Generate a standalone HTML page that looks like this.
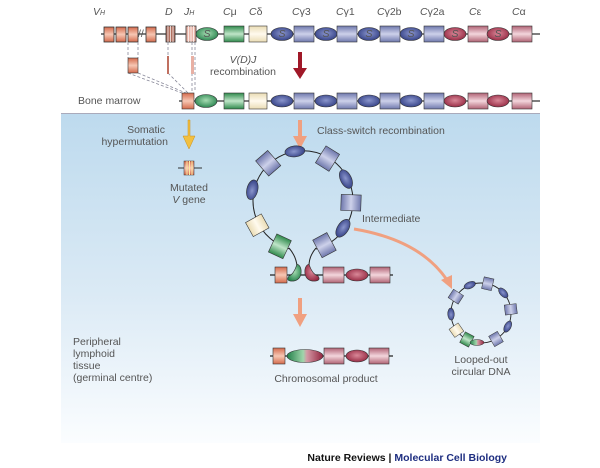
<!DOCTYPE html>
<html><head><meta charset="utf-8"><style>
html,body{margin:0;padding:0;background:#fff;width:600px;height:468px;overflow:hidden}
svg{display:block}
text{font-family:"Liberation Sans",sans-serif;font-size:10.5px;fill:#555}
</style></head><body>
<svg width="600" height="468" viewBox="0 0 600 468" xmlns="http://www.w3.org/2000/svg">
<defs>
<linearGradient id="bg" x1="0" y1="0" x2="0" y2="1">
<stop offset="0" stop-color="#bddaee"/><stop offset="0.55" stop-color="#dbeaf5"/><stop offset="1" stop-color="#fbfdff"/></linearGradient>
<linearGradient id="gb" x1="0" y1="0" x2="0" y2="1"><stop offset="0" stop-color="#6f78ad"/><stop offset="0.5" stop-color="#cdd1ea"/><stop offset="1" stop-color="#6f78ad"/></linearGradient>
<linearGradient id="gr" x1="0" y1="0" x2="0" y2="1"><stop offset="0" stop-color="#b06274"/><stop offset="0.5" stop-color="#f3d6dc"/><stop offset="1" stop-color="#b06274"/></linearGradient>
<linearGradient id="gs" x1="0" y1="0" x2="0" y2="1"><stop offset="0" stop-color="#d46a4c"/><stop offset="0.5" stop-color="#f6c7b4"/><stop offset="1" stop-color="#d46a4c"/></linearGradient>
<linearGradient id="gg" x1="0" y1="0" x2="0" y2="1"><stop offset="0" stop-color="#2f8a4c"/><stop offset="0.5" stop-color="#bfe5c8"/><stop offset="1" stop-color="#2f8a4c"/></linearGradient>
<linearGradient id="gc" x1="0" y1="0" x2="0" y2="1"><stop offset="0" stop-color="#eadcb4"/><stop offset="0.5" stop-color="#fffaee"/><stop offset="1" stop-color="#eadcb4"/></linearGradient>
<radialGradient id="eb" cx="0.5" cy="0.45" r="0.6"><stop offset="0" stop-color="#8a95cc"/><stop offset="1" stop-color="#2f3c82"/></radialGradient>
<radialGradient id="er" cx="0.5" cy="0.45" r="0.6"><stop offset="0" stop-color="#d98898"/><stop offset="1" stop-color="#93253f"/></radialGradient>
<radialGradient id="eg" cx="0.5" cy="0.45" r="0.6"><stop offset="0" stop-color="#a6dcb2"/><stop offset="1" stop-color="#23804a"/></radialGradient>
<linearGradient id="egr" x1="0" y1="0" x2="1" y2="0"><stop offset="0" stop-color="#23804a"/><stop offset="0.45" stop-color="#9fd6ab"/><stop offset="0.55" stop-color="#d49aa6"/><stop offset="1" stop-color="#93253f"/></linearGradient>
</defs>
<rect x="61" y="113" width="479" height="330" fill="url(#bg)"/>
<line x1="61" y1="113.5" x2="540" y2="113.5" stroke="#aab" stroke-width="1"/>

<!-- top labels -->
<g font-style="italic">
<text x="93" y="15" font-style="italic">V<tspan font-size="7">H</tspan></text>
<text x="165" y="15" font-style="italic">D</text>
<text x="184" y="15" font-style="italic">J<tspan font-size="7">H</tspan></text>
<text x="223" y="15" font-style="italic">C<tspan font-style="normal">μ</tspan></text>
<text x="249" y="15" font-style="italic">C<tspan font-style="normal">δ</tspan></text>
<text x="292" y="15" font-style="italic">C<tspan font-style="normal">γ3</tspan></text>
<text x="336" y="15" font-style="italic">C<tspan font-style="normal">γ1</tspan></text>
<text x="377" y="15" font-style="italic">C<tspan font-style="normal">γ2b</tspan></text>
<text x="420" y="15" font-style="italic">C<tspan font-style="normal">γ2a</tspan></text>
<text x="469" y="15" font-style="italic">C<tspan font-style="normal">ε</tspan></text>
<text x="512" y="15" font-style="italic">C<tspan font-style="normal">α</tspan></text>
</g>

<!-- row 1 -->
<g stroke="#333" stroke-width="0.8">
<line x1="101" y1="34" x2="540" y2="34" stroke-width="1.2"/>
<rect x="104" y="27" width="10" height="15" fill="url(#gs)"/>
<rect x="116" y="27" width="10" height="15" fill="url(#gs)"/>
<rect x="128" y="27" width="10" height="15" fill="url(#gs)"/>
<rect x="146" y="27" width="10" height="15" fill="url(#gs)"/>
<rect x="166" y="26" width="9" height="16" fill="#b07060"/>
<rect x="186" y="26" width="10" height="16" fill="#eab8ac"/>
</g>
<text x="138" y="37" font-size="9" fill="#555">//</text>
<g stroke="#fff" stroke-width="0.7"><line x1="168" y1="26" x2="168" y2="42"/><line x1="170.5" y1="26" x2="170.5" y2="42"/><line x1="173" y1="26" x2="173" y2="42"/><line x1="188.5" y1="26" x2="188.5" y2="42"/><line x1="191" y1="26" x2="191" y2="42"/><line x1="193.5" y1="26" x2="193.5" y2="42"/></g>
<g stroke="#333" stroke-width="0.6">
<ellipse cx="207" cy="34" rx="11" ry="6.5" fill="url(#eg)"/>
<rect x="224" y="26" width="20" height="16" fill="url(#gg)"/>
<rect x="249" y="26" width="18" height="16" fill="url(#gc)"/>
<ellipse cx="282" cy="34" rx="11" ry="6.5" fill="url(#eb)"/>
<rect x="294" y="26" width="20" height="16" fill="url(#gb)"/>
<ellipse cx="326" cy="34" rx="11" ry="6.5" fill="url(#eb)"/>
<rect x="337" y="26" width="20" height="16" fill="url(#gb)"/>
<ellipse cx="369" cy="34" rx="11" ry="6.5" fill="url(#eb)"/>
<rect x="380" y="26" width="20" height="16" fill="url(#gb)"/>
<ellipse cx="411" cy="34" rx="11" ry="6.5" fill="url(#eb)"/>
<rect x="424" y="26" width="20" height="16" fill="url(#gb)"/>
<ellipse cx="455" cy="34" rx="11" ry="6.5" fill="url(#er)"/>
<rect x="468" y="26" width="20" height="16" fill="url(#gr)"/>
<ellipse cx="498" cy="34" rx="11" ry="6.5" fill="url(#er)"/>
<rect x="512" y="26" width="20" height="16" fill="url(#gr)"/>
</g>
<g font-size="8" fill="#fff" font-style="italic" text-anchor="middle">
<text x="207" y="37" fill="#fff" font-size="8">S</text><text x="282" y="37" fill="#fff" font-size="8">S</text><text x="326" y="37" fill="#fff" font-size="8">S</text><text x="369" y="37" fill="#fff" font-size="8">S</text><text x="411" y="37" fill="#fff" font-size="8">S</text><text x="455" y="37" fill="#fff" font-size="8">S</text><text x="498" y="37" fill="#fff" font-size="8">S</text>
</g>

<!-- recombination segments -->
<g stroke="#889" stroke-width="0.8" stroke-dasharray="3,2" fill="none">
<line x1="128" y1="42" x2="128" y2="58"/><line x1="138" y1="42" x2="138" y2="58"/>
<line x1="168" y1="42" x2="168" y2="56"/><line x1="192" y1="42" x2="192" y2="56"/><line x1="195" y1="42" x2="195" y2="92"/>
<line x1="128" y1="73" x2="182" y2="93"/><line x1="138" y1="73" x2="186" y2="93"/>
<line x1="168" y1="73" x2="188" y2="93"/><line x1="192" y1="73" x2="192" y2="93"/>
</g>
<rect x="128" y="58" width="10" height="15" fill="url(#gs)" stroke="#333" stroke-width="0.6"/>
<rect x="167" y="56" width="2" height="18" fill="#c07060"/>
<rect x="191" y="56" width="3" height="18" fill="#e8b0a4"/>

<text x="243" y="63" text-anchor="middle" font-style="italic">V(D)J</text>
<text x="243" y="75" text-anchor="middle">recombination</text>
<path d="M298 52 V68 H293 L300 79 L307 68 H302 V52Z" fill="#a01828"/>

<text x="78" y="104">Bone marrow</text>
<!-- row 2 -->
<g stroke="#333" stroke-width="0.6">
<line x1="179" y1="101" x2="540" y2="101" stroke-width="1.2"/>
<rect x="182" y="93" width="12" height="16" fill="url(#gs)"/>
<ellipse cx="206" cy="101" rx="11" ry="6.5" fill="url(#eg)"/>
<rect x="224" y="93" width="20" height="16" fill="url(#gg)"/>
<rect x="249" y="93" width="18" height="16" fill="url(#gc)"/>
<ellipse cx="282" cy="101" rx="11" ry="6" fill="url(#eb)"/>
<rect x="294" y="93" width="20" height="16" fill="url(#gb)"/>
<ellipse cx="326" cy="101" rx="11" ry="6" fill="url(#eb)"/>
<rect x="337" y="93" width="20" height="16" fill="url(#gb)"/>
<ellipse cx="369" cy="101" rx="11" ry="6" fill="url(#eb)"/>
<rect x="380" y="93" width="20" height="16" fill="url(#gb)"/>
<ellipse cx="411" cy="101" rx="11" ry="6" fill="url(#eb)"/>
<rect x="424" y="93" width="20" height="16" fill="url(#gb)"/>
<ellipse cx="455" cy="101" rx="11" ry="6" fill="url(#er)"/>
<rect x="468" y="93" width="20" height="16" fill="url(#gr)"/>
<ellipse cx="498" cy="101" rx="11" ry="6" fill="url(#er)"/>
<rect x="512" y="93" width="20" height="16" fill="url(#gr)"/>
</g>

<!-- somatic hypermutation -->
<text x="165" y="133" text-anchor="end">Somatic</text>
<text x="168" y="145" text-anchor="end">hypermutation</text>
<path d="M188 120 V136 H183 L189 149 L195 136 H190 V120Z" fill="#f2c040" stroke="#c89020" stroke-width="0.5"/>
<line x1="178" y1="168" x2="202" y2="168" stroke="#333"/>
<rect x="184" y="161" width="10" height="14" fill="url(#gs)" stroke="#333" stroke-width="0.5"/>
<g stroke="#fbe8a0" stroke-width="1"><line x1="187" y1="161" x2="187" y2="175"/><line x1="189.5" y1="161" x2="189.5" y2="175"/><line x1="192" y1="161" x2="192" y2="175"/></g>
<text x="189" y="191" text-anchor="middle">Mutated</text>
<text x="189" y="203" text-anchor="middle"><tspan font-style="italic">V</tspan> gene</text>

<!-- class switch -->
<path d="M298 120 V136 H293 L300 149 L307 136 H302 V120Z" fill="#f0a080"/>
<text x="317" y="134">Class-switch recombination</text>

<!-- intermediate circle -->
<g stroke="#333" stroke-width="0.6">
<path d="M290 249 A50 50 0 1 1 316 249" fill="none" stroke="#222" stroke-width="1"/>
<path d="M289 248 Q296 256 297 266" fill="none" stroke="#222" stroke-width="1"/>
<path d="M316 248 Q309 256 309 266" fill="none" stroke="#222" stroke-width="1"/>
<g transform="rotate(115 301 201)"><rect x="343" y="191" width="16" height="20" fill="url(#gg)" transform="rotate(90 351 201)"/></g>
<g transform="rotate(151 301 201)"><rect x="343" y="192" width="16" height="18" fill="url(#gc)" transform="rotate(90 351 201)"/></g>
<g transform="rotate(193 301 201)"><ellipse cx="351" cy="201" rx="5.5" ry="10" fill="url(#eb)"/></g>
<g transform="rotate(229 301 201)"><rect x="343" y="191" width="16" height="20" fill="url(#gb)" transform="rotate(90 351 201)"/></g>
<g transform="rotate(263 301 201)"><ellipse cx="351" cy="201" rx="5.5" ry="10" fill="url(#eb)"/></g>
<g transform="rotate(302 301 201)"><rect x="343" y="191" width="16" height="20" fill="url(#gb)" transform="rotate(90 351 201)"/></g>
<g transform="rotate(334 301 201)"><ellipse cx="351" cy="201" rx="5.5" ry="10" fill="url(#eb)"/></g>
<g transform="rotate(2 301 201)"><rect x="343" y="191" width="16" height="20" fill="url(#gb)" transform="rotate(90 351 201)"/></g>
<g transform="rotate(33 301 201)"><ellipse cx="351" cy="201" rx="5.5" ry="10" fill="url(#eb)"/></g>
<g transform="rotate(62 301 201)"><rect x="343" y="191" width="16" height="20" fill="url(#gb)" transform="rotate(90 351 201)"/></g>
<line x1="270" y1="275" x2="393" y2="275" stroke="#222" stroke-width="1.2"/>
<rect x="275" y="267" width="12" height="16" fill="url(#gs)"/>
<path d="M297 264 Q302 266 301 274 Q299 282 290 281 Q286 280 289 276 Q294 274 297 264Z" fill="url(#eg)"/>
<path d="M309 264 Q304 266 305 274 Q307 282 316 281 Q321 280 318 276 Q312 274 309 264Z" fill="url(#er)"/>
<rect x="323" y="267" width="21" height="16" fill="url(#gr)"/>
<ellipse cx="357" cy="275" rx="11" ry="6" fill="url(#er)"/>
<rect x="370" y="267" width="20" height="16" fill="url(#gr)"/>
</g>
<text x="362" y="222">Intermediate</text>
<path d="M354 229 Q420 240 447 280" fill="none" stroke="#f0a080" stroke-width="3"/>
<path d="M441 280 L452 289 L452 275Z" fill="#f0a080"/>

<!-- small circle -->
<g stroke="#333" stroke-width="0.5">
<circle cx="481" cy="313" r="30" fill="none" stroke="#222" stroke-width="0.9"/>
<g transform="rotate(118 481 313)"><rect x="506" y="307" width="10" height="12" fill="url(#gg)" transform="rotate(90 511 313)"/></g>
<g transform="rotate(145 481 313)"><rect x="506" y="307.5" width="10" height="11" fill="url(#gc)" transform="rotate(90 511 313)"/></g>
<g transform="rotate(178 481 313)"><ellipse cx="511" cy="313" rx="3.3" ry="6" fill="url(#eb)"/></g>
<g transform="rotate(213 481 313)"><rect x="506" y="307" width="10" height="12" fill="url(#gb)" transform="rotate(90 511 313)"/></g>
<g transform="rotate(248 481 313)"><ellipse cx="511" cy="313" rx="3.3" ry="6" fill="url(#eb)"/></g>
<g transform="rotate(283 481 313)"><rect x="506" y="307" width="10" height="12" fill="url(#gb)" transform="rotate(90 511 313)"/></g>
<g transform="rotate(318 481 313)"><ellipse cx="511" cy="313" rx="3.3" ry="6" fill="url(#eb)"/></g>
<g transform="rotate(353 481 313)"><rect x="506" y="307" width="10" height="12" fill="url(#gb)" transform="rotate(90 511 313)"/></g>
<g transform="rotate(27 481 313)"><ellipse cx="511" cy="313" rx="3.3" ry="6" fill="url(#eb)"/></g>
<g transform="rotate(60 481 313)"><rect x="506" y="307" width="10" height="12" fill="url(#gb)" transform="rotate(90 511 313)"/></g>
<ellipse cx="477" cy="342.5" rx="7" ry="3" fill="url(#egr)"/>
</g>
<text x="481" y="363" text-anchor="middle">Looped-out</text>
<text x="481" y="375" text-anchor="middle">circular DNA</text>

<!-- chromosomal product -->
<path d="M298 298 V314 H293 L300 327 L307 314 H302 V298Z" fill="#f0a080"/>
<g stroke="#333" stroke-width="0.6">
<line x1="270" y1="356" x2="393" y2="356" stroke="#222" stroke-width="1.2"/>
<rect x="273" y="348" width="12" height="16" fill="url(#gs)"/>
<ellipse cx="305" cy="356" rx="18" ry="6.5" fill="url(#egr)"/>
<rect x="324" y="348" width="20" height="16" fill="url(#gr)"/>
<ellipse cx="357" cy="356" rx="11" ry="6" fill="url(#er)"/>
<rect x="369" y="348" width="20" height="16" fill="url(#gr)"/>
</g>
<text x="326" y="382" text-anchor="middle">Chromosomal product</text>

<text x="73" y="345">Peripheral</text>
<text x="73" y="357">lymphoid</text>
<text x="73" y="369">tissue</text>
<text x="73" y="381">(germinal centre)</text>

<text x="507" y="461" text-anchor="end" font-size="11" font-weight="bold" style="fill:#111">Nature Reviews | <tspan style="fill:#1e2e80">Molecular Cell Biology</tspan></text>
</svg>
</body></html>
